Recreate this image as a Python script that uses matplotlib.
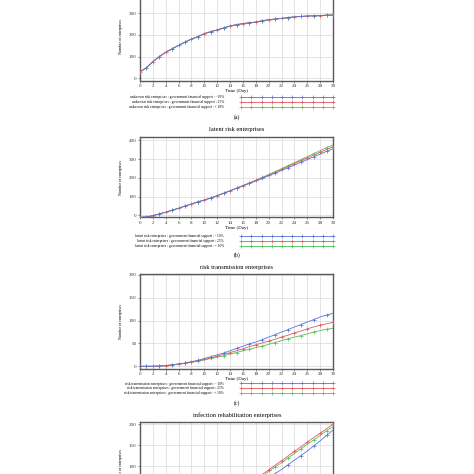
import matplotlib
matplotlib.use("Agg")
import matplotlib.pyplot as plt

plt.rcParams['font.family'] = ['Liberation Serif', 'DejaVu Serif']

days = list(range(31))

# (a) unknown risk enterprises (three scenarios overlap)
unknown_minus = [30, 49, 77, 100, 120, 136, 152, 167, 181, 192, 206, 215, 223, 232, 241, 247,
                 252, 256, 259, 265, 270, 273, 276, 280, 283, 285, 287, 288, 289, 291, 292]
unknown_base = unknown_minus
unknown_plus = unknown_minus

# (b) latent risk enterprises
latent_minus = [-10, -8, -1, 8, 17, 28, 38, 50, 61, 72, 82, 93, 105, 118, 131, 144, 157, 170,
                183, 197, 211, 225, 239, 254, 268, 283, 297, 312, 326, 341, 355]
latent_base = [-10, -8, -1, 8, 17, 28, 38, 50, 61, 72, 82, 93, 105, 118, 131, 145, 159, 172,
               186, 200, 215, 230, 245, 260, 276, 291, 306, 321, 336, 351, 366]
latent_plus = [-10, -8, -1, 8, 17, 28, 38, 50, 61, 72, 82, 93, 105, 118, 131, 145, 159, 173,
               188, 202, 218, 233, 249, 265, 281, 297, 313, 329, 345, 361, 375]

# (c) risk transmission enterprises
trans_minus = [0, 0, 0, 0.5, 1.5, 3, 5, 7, 10, 13, 17, 21, 25, 29, 34, 39, 44, 49, 53, 58,
               64, 69, 75, 80, 86, 91, 97, 102, 108, 112, 116]
trans_base = [0, 0, 0, 0.5, 1.5, 3, 5, 7, 9.5, 12, 15, 18, 22, 26, 30, 34, 38, 43, 47, 51,
              55, 59, 64, 68, 73, 77, 82, 86, 90, 93, 96]
trans_plus = [0, 0, 0, 0.5, 1.5, 3, 4.5, 6.5, 9, 11, 14, 17, 20, 23, 27, 30, 34, 37, 41, 44,
              48, 52, 56, 60, 64, 67, 71, 75, 78, 81, 83]

# (d) infection rehabilitation enterprises
rehab_minus = [0, 0, 0, 0.5, 1, 2, 3, 4, 6, 8, 11, 15, 19, 24, 30, 36, 42, 49, 56, 63, 72,
               82, 92, 103, 114, 125, 136, 148, 160, 173, 186]
rehab_base = [0, 0, 0, 0.5, 1, 2, 3, 5, 7, 10, 14, 19, 24, 30, 37, 44, 52, 61, 70, 80, 91,
              102, 113, 124, 135, 146, 157, 168, 178, 189, 200]
rehab_plus = [0, 0, 0, 0.5, 1, 2, 3, 5, 7, 10, 13, 18, 23, 29, 35, 42, 50, 58, 67, 76, 87,
              98, 108, 119, 130, 141, 152, 162, 173, 184, 194]

scenarios = ["- 10%", "25%", "+ 10%"]
colors = ["#5b74d6", "#e25a5a", "#56bf56"]
offsets = [1, 0, 1]
zorders = [4, 3, 2]

H = 474.0
fig = plt.figure(figsize=(4.74, 4.74), dpi=100)


def fy(px):
    return 1 - px / H


def panel(top, bottom, ylim, yticks, series, name, title=None, title_y=None,
          legend_y=None, tag=None, tag_y=None):
    ax = fig.add_axes([140 / H, fy(bottom), 193 / H, (bottom - top) / H])
    for vals, col, off, zo, sc in zip(series, colors, offsets, zorders, scenarios):
        ax.plot(days, vals, color=col, lw=0.6, marker='+', ms=2.6, mew=0.5,
                markevery=(off, 2), zorder=zo,
                label=f"{name} : government financial support : {sc}")
    ax.set_xlim(0, 30)
    ax.set_ylim(*ylim)
    ax.set_xticks(range(0, 31, 2))
    ax.set_yticks(yticks)
    ax.grid(True, color='#d9d9d9', lw=0.5)
    ax.set_axisbelow(True)
    for s in ax.spines.values():
        s.set_color('#5a5a5a')
        s.set_linewidth(1.0)
    ax.tick_params(labelsize=3.6, length=1.2, width=0.4, pad=1.2, colors='#333333')
    ax.set_ylabel("Number of enterprises", fontsize=2.9, labelpad=4)
    ax.set_xlabel("Time (Day)", fontsize=3.6, labelpad=0.8)
    if title:
        fig.text(237 / H, fy(title_y), title, ha='center', va='center', fontsize=4.6)
    if legend_y is not None:
        ax.legend(loc='upper right', bbox_to_anchor=(334 / H, fy(legend_y)),
                  bbox_transform=fig.transFigure, frameon=False, fontsize=2.6,
                  markerfirst=False, handlelength=26, handletextpad=4.5,
                  labelspacing=0.25, numpoints=10, borderpad=0, borderaxespad=0)
    if tag:
        fig.text(237 / H, fy(tag_y), tag, ha='center', va='center', fontsize=4.2)
    return ax


panel(-8.5, 80.5, (-10, 400), [0, 100, 200, 300, 400],
      [unknown_minus, unknown_base, unknown_plus], "unknown risk enterprises",
      legend_y=95, tag="(a)", tag_y=117)
panel(137.3, 217.3, (-10, 416), [0, 100, 200, 300, 400],
      [latent_minus, latent_base, latent_plus], "latent risk enterprises",
      title="latent risk enterprises", title_y=130, legend_y=234, tag="(b)", tag_y=255)
panel(274, 369, (-6, 202), [0, 50, 100, 150, 200],
      [trans_minus, trans_base, trans_plus], "risk transmission enterprises",
      title="risk transmission enterprises", title_y=267, legend_y=381.5, tag="(c)", tag_y=403)
panel(422, 510.6, (-6, 205), [0, 50, 100, 150, 200],
      [rehab_minus, rehab_base, rehab_plus], "infection rehabilitation enterprises",
      title="infection rehabilitation enterprises", title_y=415)

fig.savefig("out.png", dpi=100)
